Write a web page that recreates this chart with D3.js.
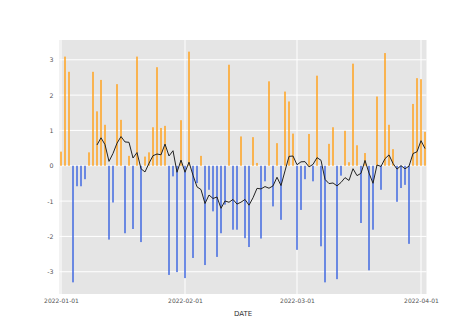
<!DOCTYPE html>
<html><head><meta charset="utf-8">
<script src="https://cdn.jsdelivr.net/npm/d3@7"></script>
<style>body{margin:0;background:#fff}svg{display:block}text{font-family:"DejaVu Sans",sans-serif}</style>
</head><body><svg id="c" width="474" height="331"></svg>
<script>
const startDate = "2022-01-01";
const values = [0.40,3.09,2.66,-3.30,-0.58,-0.58,-0.38,0.38,2.66,1.54,
2.43,1.16,-2.09,-1.04,2.31,1.30,-1.91,0.28,-1.79,3.09,
-2.16,0.26,0.38,1.09,2.79,1.07,1.13,-3.09,-0.30,-3.01,
1.29,-3.18,3.23,-2.61,-0.49,0.28,-2.81,-0.68,-1.29,-2.58,
-1.91,-1.10,2.86,-1.81,-1.81,0.83,-2.05,-2.30,0.81,0.08,
-2.06,-0.44,2.39,-1.15,0.64,-1.53,2.10,1.82,0.91,-2.38,
-1.25,-0.38,0.90,-0.44,2.55,-2.28,-3.30,0.62,1.09,-3.21,
-0.28,0.99,0.10,2.89,0.58,-1.62,0.36,-2.96,-1.81,1.96,
-0.68,3.19,1.16,0.47,-1.02,-0.63,-0.54,-2.21,1.75,2.48,
2.45,0.96];
const rollingWindow = 10;
const xTickLabels = ["2022-01-01","2022-02-01","2022-03-01","2022-04-01"];
const yTicks = [-3,-2,-1,0,1,2,3];
const xLabel = "DATE";

const day = 864e5;
const t0 = new Date(startDate + "T00:00:00Z");
const data = values.map((v,i)=>({date:new Date(+t0 + i*day), v}));
const rolling = data.map((d,i)=> i < rollingWindow-1 ? null :
  ({date:d.date, v:d3.mean(values.slice(i-rollingWindow+1, i+1))})).filter(d=>d);

const svg = d3.select("#c");
const L=59.5, R=426.5, T=40, B=294;
const x = d3.scaleUtc().domain([new Date(+t0 - 0.375*day), new Date(+t0 + (values.length-1+0.375)*day)]).range([L,R]);
const y = d3.scaleLinear().domain([-3.63,3.56]).range([B,T]);

svg.append("rect").attr("x",L).attr("y",T).attr("width",R-L).attr("height",B-T).attr("fill","#e5e5e5");
const g = svg.append("g");
g.selectAll(".gy").data(yTicks).join("line").attr("x1",L).attr("x2",R)
  .attr("y1",d=>y(d)).attr("y2",d=>y(d)).attr("stroke","#fff").attr("stroke-width",1);
const xt = xTickLabels.map(s=>new Date(s+"T00:00:00Z"));
g.selectAll(".gx").data(xt).join("line").attr("y1",T).attr("y2",B)
  .attr("x1",d=>x(d)).attr("x2",d=>x(d)).attr("stroke","#fff").attr("stroke-width",1);

const bw = 1.5;
svg.append("g").selectAll("rect").data(data).join("rect")
  .attr("x",d=>x(d.date)-bw/2).attr("width",bw)
  .attr("y",d=>y(Math.max(0,d.v))).attr("height",d=>Math.abs(y(d.v)-y(0)))
  .attr("fill",d=>d.v>=0?"#ffa21f":"#4169e1");

svg.append("path").datum(rolling)
  .attr("d",d3.line().x(d=>x(d.date)).y(d=>y(d.v)))
  .attr("fill","none").attr("stroke","#222").attr("stroke-width",1);

const axX = d3.axisBottom(x).tickValues(xt).tickFormat((d,i)=>xTickLabels[i]).tickSize(0).tickPadding(5);
const gx = svg.append("g").attr("transform",`translate(0,${B})`).call(axX);
gx.select(".domain").remove();
gx.selectAll("text").attr("fill","#555").style("font-size","6px").style("font-family","DejaVu Sans");

const axY = d3.axisLeft(y).tickValues(yTicks).tickFormat(d=>String(d)).tickSize(0).tickPadding(6);
const gy = svg.append("g").attr("transform",`translate(${L},0)`).call(axY);
gy.select(".domain").remove();
gy.selectAll("text").attr("fill","#555").style("font-size","6.3px").style("font-family","DejaVu Sans");

svg.append("text").attr("x",(L+R)/2).attr("y",316).attr("text-anchor","middle")
  .attr("fill","#333").style("font-size","7px").text(xLabel);
</script></body></html>
